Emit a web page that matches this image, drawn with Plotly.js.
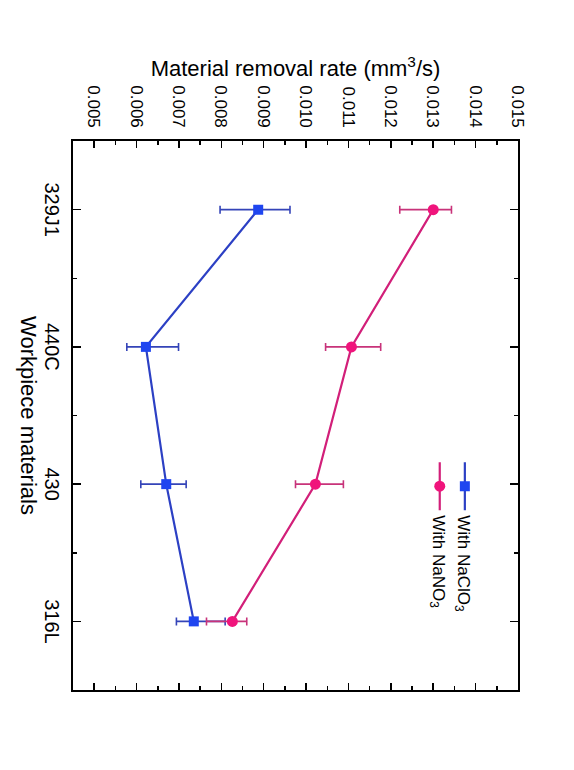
<!DOCTYPE html>
<html>
<head>
<meta charset="utf-8">
<script src="https://cdn.plot.ly/plotly-3.0.1.min.js"></script>
<style>
  html, body { margin: 0; padding: 0; background: white; overflow: hidden; }
  /* the figure is drawn upright and then turned a quarter turn clockwise */
  #graph {
    position: absolute;
    width: 770px;
    height: 574px;
    left: -98px;
    top: 98px;
    transform: rotate(90deg);
  }
</style>
</head>
<body>
<div id="graph"></div>
<script>
var categories = ['329J1', '440C', '430', '316L'];

var naclo3 = [0.00887, 0.00622, 0.00670, 0.00735];
var naclo3_plus = [0.00075, 0.00077, 0.00047, 0.00074];
var naclo3_minus = [0.00090, 0.00045, 0.00060, 0.00041];

var nano3 = [0.01300, 0.01107, 0.01022, 0.00826];
var nano3_plus = [0.00043, 0.00069, 0.00066, 0.00034];
var nano3_minus = [0.00079, 0.00061, 0.00047, 0.00061];

var positions = categories.map(function (c, i) { return i; });

var font_family = 'Arial, "Liberation Sans", sans-serif';

var plot_data = [
    {
        type: 'scatter',
        mode: 'lines+markers',
        name: 'With NaClO<sub>3</sub>',
        x: positions,
        y: naclo3,
        line: { color: '#2c40c4', width: 2.2 },
        marker: { symbol: 'square', size: 10, color: '#1f45f0' },
        error_y: {
            type: 'data',
            symmetric: false,
            array: naclo3_plus,
            arrayminus: naclo3_minus,
            color: '#3444b8',
            thickness: 1.6,
            width: 4
        }
    },
    {
        type: 'scatter',
        mode: 'lines+markers',
        name: 'With NaNO<sub>3</sub>',
        x: positions,
        y: nano3,
        line: { color: '#d21f79', width: 2.2 },
        marker: { symbol: 'circle', size: 11, color: '#f0147c' },
        error_y: {
            type: 'data',
            symmetric: false,
            array: nano3_plus,
            arrayminus: nano3_minus,
            color: '#c8337a',
            thickness: 1.6,
            width: 4
        }
    }
];

var layout = {
    width: 770,
    height: 574,
    paper_bgcolor: 'white',
    plot_bgcolor: 'white',
    font: { family: font_family, color: 'black', size: 17 },
    margin: { l: 141, r: 80, t: 56, b: 73 },
    showlegend: true,
    legend: {
        x: 0.576,
        y: 0.92,
        xanchor: 'left',
        yanchor: 'top',
        bgcolor: 'rgba(0,0,0,0)',
        itemwidth: 48,
        font: { family: font_family, size: 17, color: 'black' }
    },
    xaxis: {
        range: [-0.5, 3.5],
        tickmode: 'array',
        tickvals: positions,
        ticktext: categories,
        ticks: 'inside',
        ticklen: 8,
        tickwidth: 1.5,
        tickcolor: 'black',
        minor: { dtick: 0.5, tick0: 0, ticks: 'inside', ticklen: 4, tickwidth: 1.5, tickcolor: 'black' },
        showline: true,
        linecolor: 'black',
        linewidth: 1.8,
        mirror: 'ticks',
        showgrid: false,
        zeroline: false,
        ticklabelstandoff: 2,
        tickfont: { family: font_family, size: 20 },
        title: { text: 'Workpiece materials', font: { family: font_family, size: 22 }, standoff: 4 },
        automargin: false
    },
    yaxis: {
        range: [0.0045, 0.015],
        tick0: 0.005,
        dtick: 0.001,
        tickformat: '.3f',
        ticks: 'inside',
        ticklen: 7,
        tickwidth: 1.5,
        tickcolor: 'black',
        minor: { dtick: 0.0005, tick0: 0.005, ticks: 'inside', ticklen: 4, tickwidth: 1.5, tickcolor: 'black' },
        showline: true,
        linecolor: 'black',
        linewidth: 1.8,
        mirror: 'ticks',
        showgrid: false,
        zeroline: false,
        ticklabelstandoff: 8,
        tickfont: { family: font_family, size: 17 },
        title: { text: 'Material removal rate (mm<sup>3</sup>/s)', font: { family: font_family, size: 22 }, standoff: 2 },
        automargin: false
    }
};

Plotly.newPlot('graph', plot_data, layout, { staticPlot: true, displayModeBar: false });
</script>
</body>
</html>
